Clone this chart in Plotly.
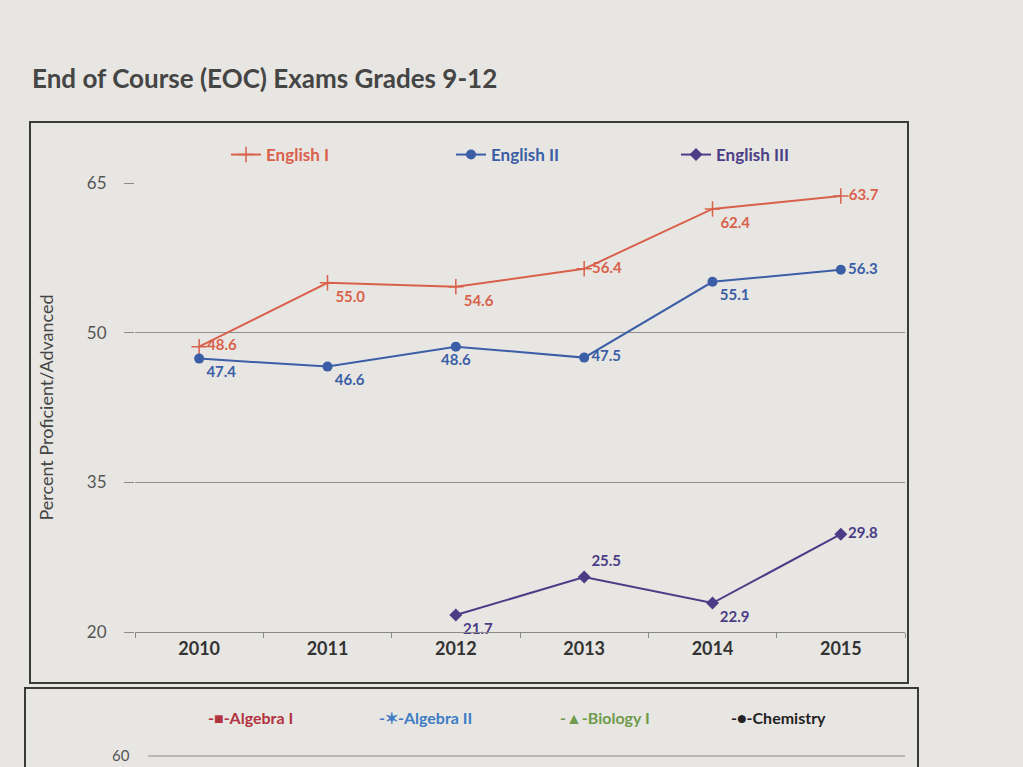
import plotly.graph_objects as go

years = ["2010", "2011", "2012", "2013", "2014", "2015"]
english1 = [48.6, 55.0, 54.6, 56.4, 62.4, 63.7]
english2 = [47.4, 46.6, 48.6, 47.5, 55.1, 56.3]
english3_years = ["2012", "2013", "2014", "2015"]
english3 = [21.7, 25.5, 22.9, 29.8]
y_ticks = [20, 35, 50, 65]

c1 = "#d9614c"
c2 = "#3b5ea6"
c3 = "#4a3d86"

# plot area in pixels
L, R, T, B = 135, 905, 183, 632
W, H = 1023, 767


def px(x):
    return (x - L) / (R - L)


def py(y):
    return (B - y) / (B - T)


lab_font = dict(family="Lato", size=15)

fig = go.Figure()
fig.add_trace(go.Scatter(
    x=years, y=english1, mode="lines+markers+text", cliponaxis=False,
    name=f"<span style='color:{c1}'>English I</span>",
    line=dict(color=c1, width=2),
    marker=dict(symbol="cross-thin-open", size=11, line=dict(color=c1, width=1.5)),
    text=[f"<b>{v:.1f}</b>" for v in english1],
    textposition=["middle right", "bottom right", "bottom right", "middle right", "bottom right", "middle right"],
    textfont=dict(color=c1, **lab_font),
))
fig.add_trace(go.Scatter(
    x=years, y=english2, mode="lines+markers+text", cliponaxis=False,
    name=f"<span style='color:{c2}'>English II</span>",
    line=dict(color=c2, width=2),
    marker=dict(symbol="circle", size=10, color=c2),
    text=[f"<b>{v:.1f}</b>" for v in english2],
    textposition=["bottom right", "bottom right", "bottom center", "middle right", "bottom right", "middle right"],
    textfont=dict(color=c2, **lab_font),
))
fig.add_trace(go.Scatter(
    x=english3_years, y=english3, mode="lines+markers+text", cliponaxis=False,
    name=f"<span style='color:{c3}'>English III</span>",
    line=dict(color=c3, width=2),
    marker=dict(symbol="diamond", size=10, color=c3),
    text=[f"<b>{v:.1f}</b>" for v in english3],
    textposition=["bottom right", "top right", "bottom right", "middle right"],
    textfont=dict(color=c3, **lab_font),
))

shapes = [
    # main chart frame
    dict(type="rect", xref="paper", yref="paper", x0=px(30), x1=px(908), y0=py(683), y1=py(122),
         line=dict(color="#3a3a3a", width=2), fillcolor="rgba(0,0,0,0)", layer="below"),
    # second chart frame (cut off)
    dict(type="rect", xref="paper", yref="paper", x0=px(25), x1=px(918), y0=py(800), y1=py(688),
         line=dict(color="#3a3a3a", width=2), fillcolor="rgba(0,0,0,0)", layer="below"),
    dict(type="line", xref="paper", yref="paper", x0=px(148), x1=px(905), y0=py(756), y1=py(756),
         line=dict(color="#8a8a8a", width=1)),
]

annotations = [
    dict(text="<b>End of Course (EOC) Exams Grades 9-12</b>", xref="paper", yref="paper",
         x=px(30), y=py(78), xanchor="left", yanchor="middle", showarrow=False,
         font=dict(family="Lato", size=26, color="#454545")),
    dict(text="60", xref="paper", yref="paper", x=px(132), y=py(755), xanchor="right",
         yanchor="middle", showarrow=False, font=dict(family="Lato", size=15, color="#555")),
]
leg2 = [("-■-Algebra I", "#b2323f", 250), ("-✶-Algebra II", "#3f7cc4", 425),
        ("-▲-Biology I", "#6f9b4c", 605), ("-●-Chemistry", "#222222", 778)]
for t, c, xx in leg2:
    annotations.append(dict(text=f"<b>{t}</b>", xref="paper", yref="paper", x=px(xx), y=py(717),
                            xanchor="center", yanchor="middle", showarrow=False,
                            font=dict(family="Lato", size=16, color=c)))

fig.update_layout(
    width=W, height=H,
    margin=dict(l=L, r=W - R, t=T, b=H - B),
    paper_bgcolor="#e8e6e2",
    plot_bgcolor="rgba(0,0,0,0)",
    font=dict(family="Lato", color="#444"),
    showlegend=True,
    legend=dict(orientation="h", x=px(226), y=py(155), xanchor="left", yanchor="middle",
                entrywidth=180, entrywidthmode="pixels", bgcolor="rgba(0,0,0,0)",
                itemwidth=30,
                font=dict(family="Lato", size=17, weight="bold")),
    shapes=shapes,
    annotations=annotations,
    xaxis=dict(
        type="category", categoryorder="array", categoryarray=years,
        range=[-0.5, 5.5], showgrid=False, showline=True, linecolor="#8a8a8a",
        ticks="outside", ticklen=5, tickcolor="#8a8a8a", tickson="boundaries",
        tickfont=dict(family="Lato", size=18, color="#333", weight="bold"),
    ),
    yaxis=dict(
        range=[20, 65], tickvals=y_ticks, showgrid=True, gridcolor="#8f8f8f", gridwidth=1,
        showline=False, zeroline=False, ticks="outside", ticklen=10, tickcolor="#8a8a8a",
        ticklabelstandoff=14,
        tickfont=dict(family="Lato", size=17, color="#555"),
        title=dict(text="Percent Proficient/Advanced", standoff=28,
                   font=dict(family="Lato", size=18, color="#444")),
    ),
)

fig.write_html(
    "out.html",
    config={"displayModeBar": False},
    post_script="document.body.style.margin='0';document.body.style.background='#e8e6e2';",
)
